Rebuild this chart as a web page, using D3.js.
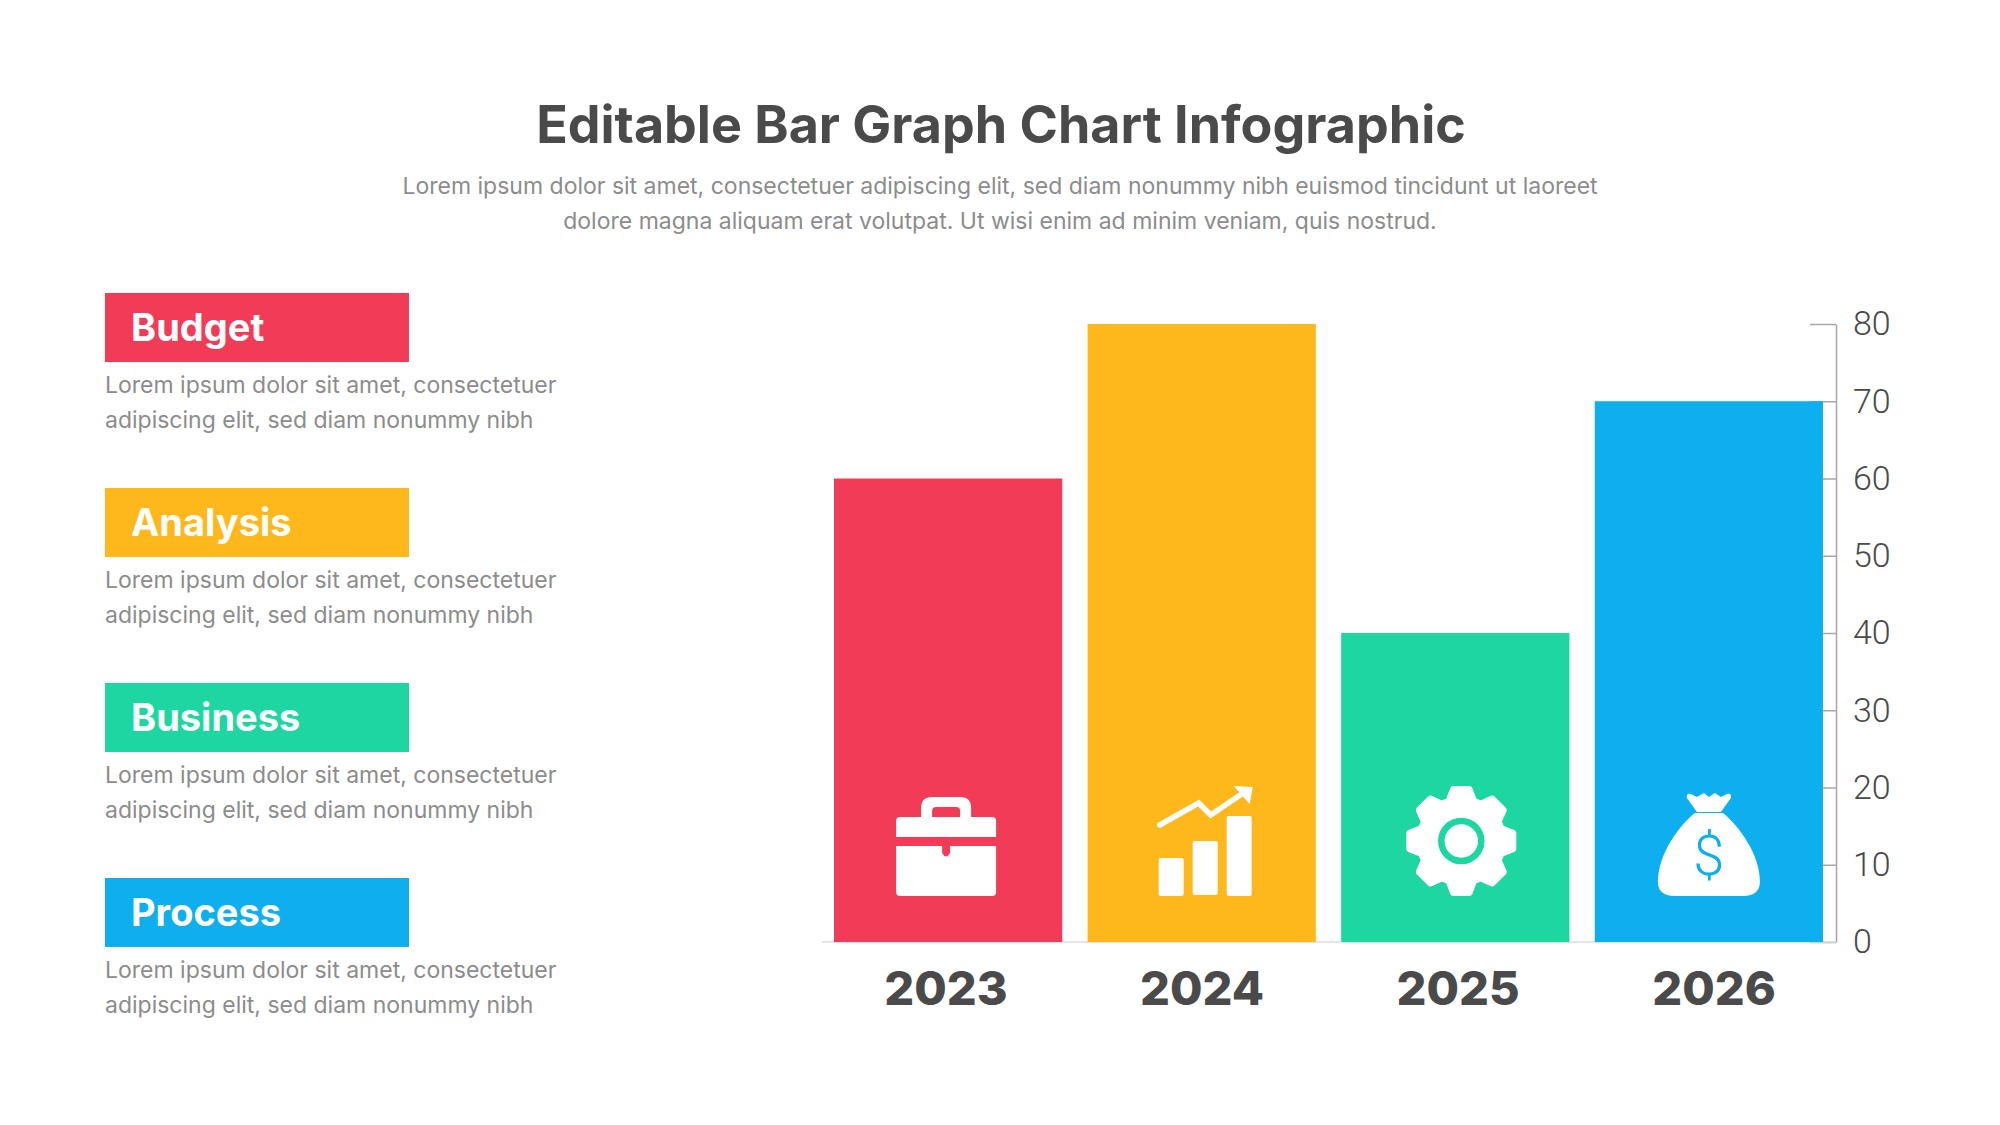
<!DOCTYPE html>
<html>
<head>
    <meta charset="utf-8">
    <script src="https://d3js.org/d3.v7.min.js" charset="utf-8"></script>
    <style>
        html, body {
            margin: 0px;
            padding: 0px;
            background: #fff;
        }
        svg {
            display: block;
        }
        text {
            font-family: Inter, sans-serif;
        }
        .axis text {
            font-family: Roboto, sans-serif;
            font-weight: 300;
        }
    </style>
</head>
<body>

<div id="chart"></div>

<script>

    var years = ['2023', '2024', '2025', '2026'];
    var values = [60, 80, 40, 70];
    var barColors = ['#f23b57', '#ffb81c', '#1ed6a2', '#0dafef'];
    var yTicks = [0, 10, 20, 30, 40, 50, 60, 70, 80];

    var categories = ['Budget', 'Analysis', 'Business', 'Process'];
    var categoryNote = ['Lorem ipsum dolor sit amet, consectetuer', 'adipiscing elit, sed diam nonummy nibh'];

    var title = 'Editable Bar Graph Chart Infographic';
    var subtitle = [
        'Lorem ipsum dolor sit amet, consectetuer adipiscing elit, sed diam nonummy nibh euismod tincidunt ut laoreet',
        'dolore magna aliquam erat volutpat. Ut wisi enim ad minim veniam, quis nostrud.'
    ];

    var svg = d3.select('#chart').append('svg')
        .attr('width', 2000)
        .attr('height', 1125);

    var x = d3.scaleBand().domain(years).range([834, 1823]).paddingInner(0.1);
    var y = d3.scaleLinear().domain([0, 80]).range([942, 324]);
    var labelX = d3.scalePoint().domain(years).range([946, 1714]);
    var rowY = d3.scalePoint().domain(categories).range([293, 878]);

    // heading
    svg.append('text')
        .attr('x', 1001)
        .attr('y', 143)
        .attr('text-anchor', 'middle')
        .attr('font-size', 52)
        .attr('font-weight', 700)
        .attr('fill', '#4a4a4a')
        .text(title);

    svg.selectAll('.sub')
        .data(subtitle)
        .enter().append('text')
        .attr('class', 'sub')
        .attr('x', 1000)
        .attr('y', function(d, i) { return 194 + i * 35; })
        .attr('text-anchor', 'middle')
        .attr('font-size', 23)
        .attr('fill', '#8c8c8c')
        .text(function(d) { return d; });

    // left column
    var rows = svg.selectAll('.row')
        .data(categories)
        .enter().append('g')
        .attr('class', 'row')
        .attr('transform', function(d) { return 'translate(105,' + rowY(d) + ')'; });

    rows.append('rect')
        .attr('width', 304)
        .attr('height', 69)
        .attr('fill', function(d, i) { return barColors[i]; });

    rows.append('text')
        .attr('x', 26)
        .attr('y', 48)
        .attr('font-size', 38)
        .attr('font-weight', 700)
        .attr('fill', '#fff')
        .text(function(d) { return d; });

    categoryNote.forEach(function(line, i) {
        rows.append('text')
            .attr('y', 100 + i * 35)
            .attr('font-size', 23)
            .attr('fill', '#8c8c8c')
            .text(line);
    });

    // y axis goes first so the bars sit on top of its ticks
    svg.append('g')
        .attr('class', 'axis')
        .attr('transform', 'translate(1836,0)')
        .call(d3.axisRight(y).tickValues(yTicks).tickSizeInner(-26).tickSizeOuter(0).tickPadding(17))
        .call(function(g) {
            g.select('.domain').attr('stroke', '#a6a6a6').attr('stroke-width', 1.5);
            g.selectAll('.tick line').attr('stroke', '#a6a6a6').attr('stroke-width', 1.5);
            g.selectAll('text').attr('font-size', 34).attr('fill', '#4a4a4a').attr('font-family', 'Roboto, sans-serif');
        });

    svg.append('line')
        .attr('x1', 822)
        .attr('x2', 1836)
        .attr('y1', y(0))
        .attr('y2', y(0))
        .attr('stroke', '#dddddd')
        .attr('stroke-width', 1.5);

    svg.selectAll('.bar')
        .data(values)
        .enter().append('rect')
        .attr('class', 'bar')
        .attr('x', function(d, i) { return x(years[i]); })
        .attr('y', function(d) { return y(d); })
        .attr('width', x.bandwidth())
        .attr('height', function(d) { return y(0) - y(d); })
        .attr('fill', function(d, i) { return barColors[i]; });

    svg.selectAll('.year')
        .data(years)
        .enter().append('text')
        .attr('class', 'year')
        .attr('x', function(d) { return labelX(d); })
        .attr('y', 1005)
        .attr('text-anchor', 'middle')
        .attr('font-size', 47)
        .attr('font-weight', 800)
        .attr('fill', '#4a4a4a')
        .text(function(d) { return d; });

    // icons, each drawn around a local origin at the bottom centre
    function iconGroup(year, dx) {
        return svg.append('g')
            .attr('transform', 'translate(' + (x(year) + x.bandwidth() / 2 + dx) + ',896)')
            .attr('fill', '#fff');
    }

    function drawBriefcase(g) {
        g.append('path')
            .attr('d', 'M-25,-79 V-88 Q-25,-99 -14,-99 H14 Q25,-99 25,-88 V-79 H14 V-85 Q14,-89 10,-89 H-10 Q-14,-89 -14,-85 V-79 Z');
        g.append('path')
            .attr('d', 'M-50,-59 V-75 Q-50,-79 -46,-79 H46 Q50,-79 50,-75 V-59 Z');
        g.append('path')
            .attr('d', 'M-50,-50 H-4 V-43 Q0,-36 4,-43 V-50 H50 V-4 Q50,0 46,0 H-46 Q-50,0 -50,-4 Z');
    }

    function drawGrowth(g) {
        g.append('rect').attr('x', -45).attr('y', -38).attr('width', 25).attr('height', 38).attr('rx', 2);
        g.append('rect').attr('x', -11).attr('y', -55).attr('width', 25).attr('height', 54).attr('rx', 2);
        g.append('rect').attr('x', 23).attr('y', -80).attr('width', 25).attr('height', 80).attr('rx', 2);
        g.append('path')
            .attr('d', 'M-44,-71 L-5,-93 L7,-81 L41,-104')
            .attr('fill', 'none')
            .attr('stroke', '#fff')
            .attr('stroke-width', 5.5)
            .attr('stroke-linecap', 'round');
        g.append('path')
            .attr('d', 'M30,-110 L49,-109 L46,-92 Z');
    }

    function drawGear(g, holeColor) {
        var c = g.append('g').attr('transform', 'translate(0,-55)');
        d3.range(8).forEach(function(i) {
            c.append('path')
                .attr('transform', 'rotate(' + i * 45 + ')')
                .attr('d', 'M-16,-40 L-11,-53 Q-10,-55 -8,-55 H8 Q10,-55 11,-53 L16,-40 Z');
        });
        c.append('circle').attr('r', 45);
        c.append('circle')
            .attr('r', 20)
            .attr('fill', '#fff')
            .attr('stroke', holeColor)
            .attr('stroke-width', 6.5);
    }

    function drawBag(g, inkColor) {
        g.append('path')
            .attr('d', 'M-14,-83 C-30,-70 -51,-42 -51,-14 C-51,-4 -44,0 -34,0 H34 C44,0 51,-4 51,-14 C51,-42 30,-70 14,-83 Z');
        g.append('path')
            .attr('d', 'M-12,-84 L-22,-98 Q-23,-103 -18,-102 L-12,-99 L-5,-103 L0,-99 L6,-103 L12,-99 L18,-102 Q23,-103 22,-98 L12,-84 Z');
        g.append('text')
            .attr('y', -21)
            .attr('text-anchor', 'middle')
            .attr('font-size', 56)
            .attr('font-weight', 300)
            .attr('fill', inkColor)
            .attr('style', 'font-family: Roboto, sans-serif')
            .text('$');
    }

    drawBriefcase(iconGroup(years[0], -2));
    drawGrowth(iconGroup(years[1], 2));
    drawGear(iconGroup(years[2], 6), barColors[2]);
    drawBag(iconGroup(years[3], 0), barColors[3]);

</script>
</body>
</html>
